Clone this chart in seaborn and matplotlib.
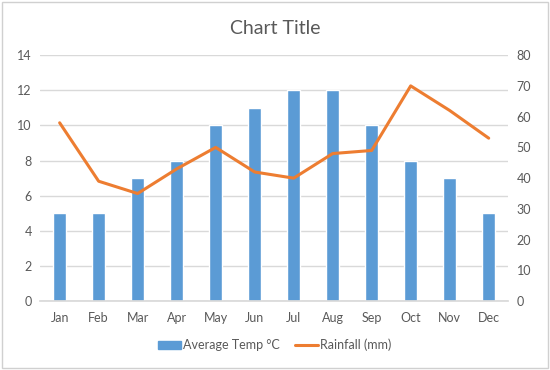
import pandas as pd
import matplotlib.pyplot as plt
import seaborn as sns
from matplotlib.patches import Rectangle
from matplotlib.lines import Line2D

sns.set_theme(style='white')
plt.rcParams['font.family'] = ['Lato', 'DejaVu Sans']

# 데이터
months = ['Jan', 'Feb', 'Mar', 'Apr', 'May', 'Jun', 'Jul', 'Aug', 'Sep', 'Oct', 'Nov', 'Dec']
avg_temp = [5, 5, 7, 8, 10, 11, 12, 12, 10, 8, 7, 5]
rainfall = [58, 39, 35, 43, 50, 42, 40, 48, 49, 70, 62, 53]

df = pd.DataFrame({'month': months, 'temp': avg_temp, 'rain': rainfall})

bar_color = '#5B9BD5'
line_color = '#ED7D31'
text_color = '#595959'
grid_color = '#D9D9D9'

fig = plt.figure(figsize=(5.5, 3.7), dpi=100)
ax = fig.add_axes([0.073, 0.186, 0.851, 0.665])

sns.barplot(data=df, x='month', y='temp', color=bar_color, width=0.32,
            saturation=1, ax=ax, zorder=2)
ax.set_ylim(0, 14)
ax.set_yticks(range(0, 15, 2))
ax.set_xlim(-0.5, 11.5)
ax.yaxis.grid(True, color=grid_color, linewidth=1, zorder=0)
ax.set_axisbelow(True)
ax.set_xlabel('')
ax.set_ylabel('')

ax2 = ax.twinx()
sns.lineplot(data=df, x='month', y='rain', color=line_color, linewidth=2.2,
             ax=ax2, sort=False)
ax2.set_ylim(0, 80)
ax2.set_yticks(range(0, 81, 10))
ax2.set_ylabel('')
ax2.set_xlim(-0.5, 11.5)

for a in (ax, ax2):
    for s in a.spines.values():
        s.set_visible(False)
    a.tick_params(axis='both', length=0, labelsize=9, colors=text_color, pad=6)
ax.spines['bottom'].set_visible(True)
ax.spines['bottom'].set_color(grid_color)
ax.tick_params(axis='x', pad=8)

fig.text(0.5, 0.924, 'Chart Title', ha='center', va='center', fontsize=14, color=text_color)

handles = [Rectangle((0, 0), 1, 1, color=bar_color),
           Line2D([0], [0], color=line_color, linewidth=2.2)]
fig.legend(handles, ['Average Temp °C', 'Rainfall (mm)'], loc='center',
           bbox_to_anchor=(0.5, 0.068), ncol=2, frameon=False, fontsize=9,
           labelcolor=text_color, handlelength=1.8, handleheight=0.6,
           handletextpad=0.2, columnspacing=1.2)

fig.patches.append(Rectangle((0.004, 0.006), 0.992, 0.988, transform=fig.transFigure,
                             fill=False, edgecolor='#D0D0D0', linewidth=1))

plt.savefig('out.png', dpi=100)
plt.close()
